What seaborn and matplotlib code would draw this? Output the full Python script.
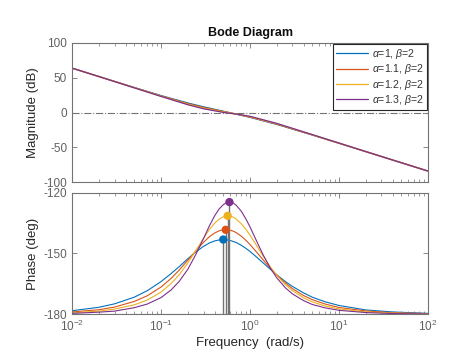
import numpy as np
import pandas as pd
import matplotlib
matplotlib.use('Agg')
import matplotlib.pyplot as plt
import seaborn as sns

# ---------------- data ----------------
series_labels = [r'$\alpha$=1, $\beta$=2', r'$\alpha$=1.1, $\beta$=2',
                 r'$\alpha$=1.2, $\beta$=2', r'$\alpha$=1.3, $\beta$=2']
colors = ['#0072BD', '#D95319', '#EDB120', '#7E2F8E']

freq_mag = [0.01, 0.02, 0.05, 0.1, 0.2, 0.3, 0.5, 0.7, 1, 2, 5, 10, 20, 50, 100]
mag_a10 = [63.8, 51.8, 36.0, 24.4, 13.7, 8.2, 1.9, -2.3, -6.9, -17.1, -32.3, -44.2, -56.2, -72.1, -84.2]
mag_a11 = [63.8, 51.7, 35.8, 23.9, 12.8, 7.3, 1.5, -2.2, -6.5, -16.6, -32.1, -44.1, -56.2, -72.1, -84.1]
mag_a12 = [63.8, 51.7, 35.7, 23.5, 12.0, 6.3, 0.9, -2.2, -6.0, -16.1, -31.9, -44.0, -56.1, -72.1, -84.1]
mag_a13 = [63.8, 51.7, 35.5, 23.1, 11.2, 5.4, 0.2, -2.2, -5.4, -15.6, -31.7, -43.9, -56.1, -72.1, -84.1]

freq_ph = [0.01, 0.02, 0.03, 0.05, 0.07, 0.1, 0.13, 0.16, 0.2, 0.25, 0.3, 0.35, 0.4, 0.45,
           0.5, 0.55, 0.6, 0.65, 0.7, 0.8, 0.9, 1, 1.2, 1.4, 1.7, 2, 2.5, 3, 4, 5, 7, 10,
           20, 40, 100]
ph_a10 = [-178.3, -176.6, -174.9, -171.6, -168.4, -163.9, -159.9, -156.5, -152.6, -149.0,
          -146.5, -144.8, -143.8, -143.3, -143.1, -143.3, -143.6, -144.1, -144.6, -146.0,
          -147.5, -149.0, -152.0, -154.6, -157.9, -160.6, -163.9, -166.3, -169.5, -171.6,
          -173.9, -175.7, -177.9, -178.9, -179.6]
ph_a11 = [-178.9, -177.8, -176.5, -173.7, -170.9, -166.6, -162.3, -158.2, -153.3, -148.4,
          -144.5, -141.7, -139.9, -138.8, -138.3, -138.3, -138.5, -139.0, -139.7, -141.5,
          -143.5, -145.6, -149.6, -153.1, -157.4, -160.7, -164.6, -167.4, -170.8, -172.8,
          -175.0, -176.7, -178.4, -179.3, -179.7]
ph_a12 = [-179.3, -178.5, -177.5, -175.4, -173.0, -169.1, -164.8, -160.5, -154.7, -148.1,
          -142.5, -138.1, -135.1, -133.0, -131.9, -131.4, -131.6, -132.1, -133.0, -135.4,
          -138.1, -141.0, -146.5, -151.2, -156.8, -160.9, -165.4, -168.4, -171.9, -173.9,
          -176.0, -177.4, -178.9, -179.5, -179.8]
ph_a13 = [-179.6, -179.0, -178.5, -176.8, -175.0, -171.8, -168.0, -163.8, -157.8, -149.9,
          -142.6, -136.3, -131.4, -128.0, -125.9, -124.8, -124.6, -125.1, -126.2, -129.2,
          -133.0, -136.9, -144.4, -150.6, -157.4, -162.1, -167.0, -170.0, -173.3, -175.2,
          -176.9, -178.1, -179.2, -179.7, -179.9]

peak_freq = [0.500, 0.533, 0.561, 0.587]
peak_phase = [-143.1, -138.3, -131.4, -124.6]

mag_ticks = [-100, -50, 0, 50, 100]
ph_ticks = [-180, -150, -120]
freq_ticks = [0.01, 0.1, 1, 10, 100]
freq_ticklabels = [r'$10^{-2}$', r'$10^{-1}$', r'$10^{0}$', r'$10^{1}$', r'$10^{2}$']

# ---------------- build tables ----------------
mag_all = [mag_a10, mag_a11, mag_a12, mag_a13]
ph_all = [ph_a10, ph_a11, ph_a12, ph_a13]
df_mag = pd.concat([pd.DataFrame({'freq': freq_mag, 'val': m, 'series': lab})
                    for m, lab in zip(mag_all, series_labels)], ignore_index=True)
df_ph = pd.concat([pd.DataFrame({'freq': freq_ph, 'val': p, 'series': lab})
                   for p, lab in zip(ph_all, series_labels)], ignore_index=True)
df_pk = pd.DataFrame({'freq': peak_freq, 'val': peak_phase, 'series': series_labels})

# ---------------- style ----------------
sns.set_theme(style='white')
plt.rcParams['font.family'] = ['Liberation Sans', 'DejaVu Sans']
plt.rcParams['mathtext.fontset'] = 'custom'
plt.rcParams['mathtext.rm'] = 'Liberation Sans'
plt.rcParams['mathtext.it'] = 'Liberation Sans:italic'
plt.rcParams['mathtext.bf'] = 'Liberation Sans:bold'
plt.rcParams['axes.unicode_minus'] = False

axis_gray = '0.45'
tick_text = '0.38'
label_text = '0.15'
palette = dict(zip(series_labels, colors))

fig = plt.figure(figsize=(4.74, 3.55), dpi=100)
ax1 = fig.add_axes([0.152, 0.487, 0.751, 0.392])
ax2 = fig.add_axes([0.152, 0.115, 0.751, 0.342])

sns.lineplot(data=df_mag, x='freq', y='val', hue='series', palette=palette,
             hue_order=series_labels, estimator=None, sort=False, linewidth=0.9, ax=ax1)
sns.lineplot(data=df_ph, x='freq', y='val', hue='series', palette=palette,
             hue_order=series_labels, estimator=None, sort=False, linewidth=0.8,
             legend=False, ax=ax2)

ax1.axhline(0, color='0.45', lw=0.8, ls='-.', zorder=1)
ax2.axhline(-180, color='0.45', lw=0.8, ls='-.', zorder=1)

ax2.vlines(peak_freq, -180, peak_phase, colors='0.45', lw=1.0, zorder=3)
sns.scatterplot(data=df_pk, x='freq', y='val', hue='series', palette=palette,
                hue_order=series_labels, s=36, edgecolor='none', legend=False,
                zorder=4, ax=ax2)

handles, labels = ax1.get_legend_handles_labels()
ax1.get_legend().remove()
leg = ax1.legend(handles, labels, loc='upper right', fontsize=7.6, frameon=True,
                 fancybox=False, edgecolor='0.15', borderaxespad=0.1,
                 handlelength=3.0, handletextpad=0.4, labelspacing=0.12,
                 borderpad=0.3)
leg.get_frame().set_linewidth(0.8)
leg.get_frame().set_alpha(1)
for t in leg.get_texts():
    t.set_color('0.2')

for ax in (ax1, ax2):
    ax.set_xscale('log')
    ax.set_xlim(0.01, 100)
    for sp in ax.spines.values():
        sp.set_color(axis_gray)
        sp.set_linewidth(0.8)
    ax.tick_params(which='both', direction='in', top=True, right=True,
                   bottom=True, left=True, colors=axis_gray, labelsize=8.5)
    ax.tick_params(which='major', length=3.5, width=0.6)
    ax.tick_params(which='minor', length=2, width=0.5)

ax1.set_ylim(-100, 100)
ax1.set_yticks(mag_ticks)
ax1.tick_params(axis='x', which='both', labelbottom=False)
ax1.set_xlabel('')
ax1.set_ylabel('Magnitude (dB)', fontsize=9.5, color=label_text, labelpad=3)
ax1.set_title('Bode Diagram', fontsize=9, fontweight='bold', color='0.05', pad=5)

ax2.set_ylim(-180, -120)
ax2.set_yticks(ph_ticks)
ax2.set_xticks(freq_ticks)
ax2.set_xticklabels(freq_ticklabels)
ax2.set_ylabel('Phase (deg)', fontsize=9.5, color=label_text, labelpad=3)
ax2.set_xlabel('Frequency  (rad/s)', fontsize=9.5, color=label_text, labelpad=2)

for ax in (ax1, ax2):
    for lab in ax.get_xticklabels() + ax.get_yticklabels():
        lab.set_color(tick_text)

fig.savefig('out.png', dpi=100)
